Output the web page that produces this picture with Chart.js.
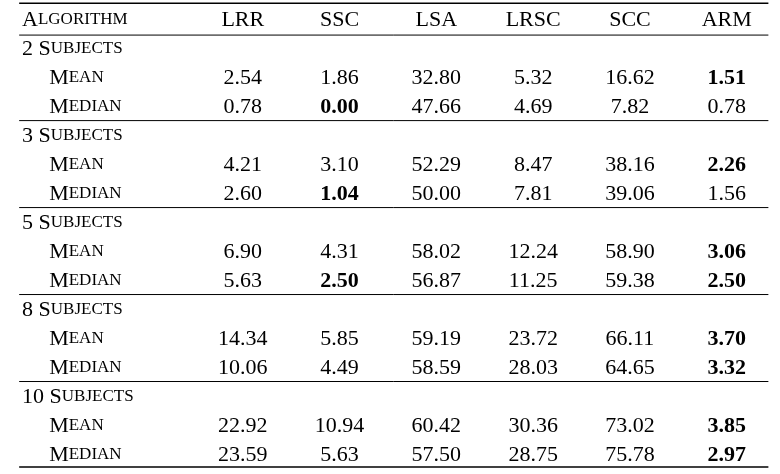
<!DOCTYPE html>
<html><head><meta charset="utf-8">
<script src="https://cdn.jsdelivr.net/npm/chart.js@4"></script>
<style>html,body{margin:0;background:#fff}#wrap{width:780px;height:474px}</style>
</head><body><div id="wrap"><canvas id="c"></canvas></div>
<script>
// table content
const algorithms = ['LRR', 'SSC', 'LSA', 'LRSC', 'SCC', 'ARM'];
const groups = ['2 Subjects', '3 Subjects', '5 Subjects', '8 Subjects', '10 Subjects'];
const meanValues = [
  [2.54, 1.86, 32.80, 5.32, 16.62, 1.51],
  [4.21, 3.10, 52.29, 8.47, 38.16, 2.26],
  [6.90, 4.31, 58.02, 12.24, 58.90, 3.06],
  [14.34, 5.85, 59.19, 23.72, 66.11, 3.70],
  [22.92, 10.94, 60.42, 30.36, 73.02, 3.85]
];
const medianValues = [
  [0.78, 0.00, 47.66, 4.69, 7.82, 0.78],
  [2.60, 1.04, 50.00, 7.81, 39.06, 1.56],
  [5.63, 2.50, 56.87, 11.25, 59.38, 2.50],
  [10.06, 4.49, 58.59, 28.03, 64.65, 3.32],
  [23.59, 5.63, 57.50, 28.75, 75.78, 2.97]
];
// column index of bold cells per group
const boldMean = [[5], [5], [5], [5], [5]];
const boldMedian = [[1], [1], [1, 5], [5], [5]];

const FONT = '"Liberation Serif", "DejaVu Serif", serif';
const SIZE = 22;

// build cells: x = column (0 = label col), y = row index
const cells = [];
cells.push({x: 0, y: 0, t: 'Algorithm', sc: true, left: true});
algorithms.forEach((a, i) => cells.push({x: i + 1, y: 0, t: a}));
groups.forEach((g, gi) => {
  const r = 1 + gi * 3;
  cells.push({x: 0, y: r, t: g, sc: true, left: true});
  cells.push({x: 0.28, y: r + 1, t: 'Mean', sc: true, left: true});
  cells.push({x: 0.28, y: r + 2, t: 'Median', sc: true, left: true});
  meanValues[gi].forEach((v, i) => cells.push({x: i + 1, y: r + 1, t: v.toFixed(2), b: boldMean[gi].includes(i)}));
  medianValues[gi].forEach((v, i) => cells.push({x: i + 1, y: r + 2, t: v.toFixed(2), b: boldMedian[gi].includes(i)}));
});
const rules = [{y: -0.58, w: 1.6}, {y: 0.52, w: 1}];
groups.forEach((g, gi) => { if (gi > 0) rules.push({y: 0.52 + gi * 3 - 0.05, w: 1}); });
rules.push({y: 15.42, w: 1.6});

function drawSmallCaps(ctx, text, x, y) {
  let cx = x;
  for (const word of text.split(' ')) {
    for (let k = 0; k < word.length; k++) {
      const ch = word[k];
      const big = k === 0 || /[0-9]/.test(ch);
      ctx.font = (big ? SIZE : Math.round(SIZE * 0.78)) + 'px ' + FONT;
      const s = big ? ch : ch.toUpperCase();
      ctx.fillText(s, cx, y);
      cx += ctx.measureText(s).width;
    }
    ctx.font = SIZE + 'px ' + FONT;
    cx += ctx.measureText(' ').width;
  }
}

const tablePlugin = {
  id: 'table',
  afterDatasetsDraw(chart) {
    const ctx = chart.ctx, xs = chart.scales.x, ys = chart.scales.y;
    ctx.save();
    ctx.strokeStyle = '#000';
    rules.forEach(r => {
      const py = ys.getPixelForValue(r.y);
      ctx.lineWidth = r.w;
      ctx.beginPath(); ctx.moveTo(xs.getPixelForValue(-1.31), py); ctx.lineTo(xs.getPixelForValue(6.43), py); ctx.stroke();
    });
    ctx.fillStyle = '#000';
    ctx.textBaseline = 'middle';
    const meta = chart.getDatasetMeta(0);
    meta.data.forEach((pt, i) => {
      const c = cells[i];
      if (c.left) {
        ctx.textAlign = 'left';
        const px = xs.getPixelForValue(c.x === 0 ? -1.28 : -1.28 + c.x);
        drawSmallCaps(ctx, c.t, px, pt.y);
      } else {
        ctx.textAlign = 'center';
        ctx.font = (c.b ? 'bold ' : '') + SIZE + 'px ' + FONT;
        ctx.fillText(c.t, pt.x, pt.y);
      }
    });
    ctx.restore();
  }
};

new Chart(document.getElementById('c'), {
  type: 'scatter',
  data: {datasets: [{data: cells.map(c => ({x: c.x, y: c.y})), pointRadius: 0}]},
  options: {
    responsive: true, maintainAspectRatio: false, animation: false,
    layout: {padding: 0},
    plugins: {legend: {display: false}, tooltip: {enabled: false}},
    scales: {
      x: {type: 'linear', min: -1.508, max: 6.55, display: false},
      y: {type: 'linear', min: -0.69, max: 15.66, reverse: true, display: false}
    }
  },
  plugins: [tablePlugin]
});
</script></body></html>
